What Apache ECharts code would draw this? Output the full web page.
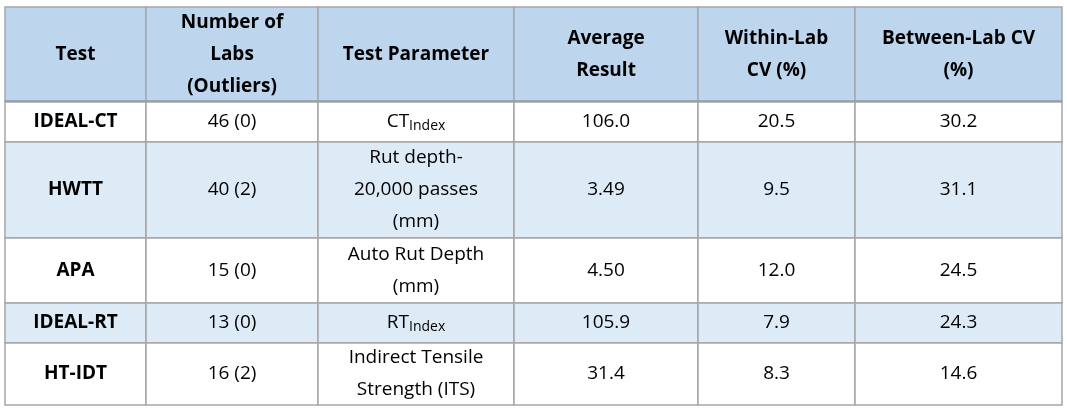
<!DOCTYPE html>
<html><head><meta charset="utf-8">
<script src="https://cdn.jsdelivr.net/npm/echarts@6/dist/echarts.min.js"></script>
<style>html,body{margin:0;padding:0;background:#fff}#c{width:1067px;height:415px}</style>
</head><body><div id="c"></div>
<script>
const headers = ["Test", "Number of\nLabs\n(Outliers)", "Test Parameter", "Average\nResult", "Within-Lab\nCV (%)", "Between-Lab CV\n(%)"];
const tests = ["IDEAL-CT", "HWTT", "APA", "IDEAL-RT", "HT-IDT"];
const labs = ["46 (0)", "40 (2)", "15 (0)", "13 (0)", "16 (2)"];
const params = ["{n|CT}{s|Index}", "Rut depth-\n20,000 passes\n(mm)", "Auto Rut Depth\n(mm)", "{n|RT}{s|Index}", "Indirect Tensile\nStrength (ITS)"];
const avgResult = ["106.0", "3.49", "4.50", "105.9", "31.4"];
const withinCV = ["20.5", "9.5", "12.0", "7.9", "8.3"];
const betweenCV = ["30.2", "31.1", "24.5", "24.3", "14.6"];

const colEdges = [5, 146, 318, 514, 698, 855, 1062];
const rowEdges = [7, 102, 142, 238, 303, 343, 405];

const cells = [];
headers.forEach((h, c) => cells.push([c, 0, h]));
const cols = [tests, labs, params, avgResult, withinCV, betweenCV];
for (let r = 0; r < tests.length; r++) for (let c = 0; c < 6; c++) cells.push([c, r + 1, cols[c][r]]);

const FONT = '"Open Sans", "Noto Sans", sans-serif';
const chart = echarts.init(document.getElementById('c'));
chart.setOption({
  animation: false,
  grid: {left: 0, right: 0, top: 0, bottom: 0},
  xAxis: {type: 'value', min: 0, max: 1067, show: false},
  yAxis: {type: 'value', min: 0, max: 415, inverse: true, show: false},
  series: [{
    type: 'custom',
    data: cells,
    renderItem: function (params, api) {
      const c = api.value(0), r = api.value(1);
      const txt = cells[params.dataIndex][2];
      const p0 = api.coord([colEdges[c], rowEdges[r]]);
      const p1 = api.coord([colEdges[c + 1], rowEdges[r + 1]]);
      const fill = r === 0 ? '#bdd6ee' : (r % 2 === 0 ? '#ddebf7' : '#ffffff');
      const bold = r === 0 || c === 0;
      const children = [{
        type: 'rect',
        shape: {x: p0[0], y: p0[1], width: p1[0] - p0[0], height: p1[1] - p0[1]},
        style: {fill: fill, stroke: '#a6a6a6', lineWidth: 1.5}
      }, {
        type: 'text',
        style: {
          text: txt, x: (p0[0] + p1[0]) / 2, y: (p0[1] + p1[1]) / 2,
          align: 'center', verticalAlign: 'middle',
          font: (bold ? 'bold ' : '') + '19px ' + FONT, fill: '#000', lineHeight: 32,
          rich: {
            n: {fontSize: 19, fontFamily: FONT, fill: '#000'},
            s: {fontSize: 14, fontFamily: FONT, fill: '#000', padding: [9, 0, 0, 0]}
          }
        }
      }];
      if (r === 0) {
        children.push({type: 'line', shape: {x1: p0[0], y1: p1[1], x2: p1[0], y2: p1[1]},
          style: {stroke: '#7f7f7f', lineWidth: 3}});
      }
      return {type: 'group', children: children};
    }
  }]
});
</script></body></html>
